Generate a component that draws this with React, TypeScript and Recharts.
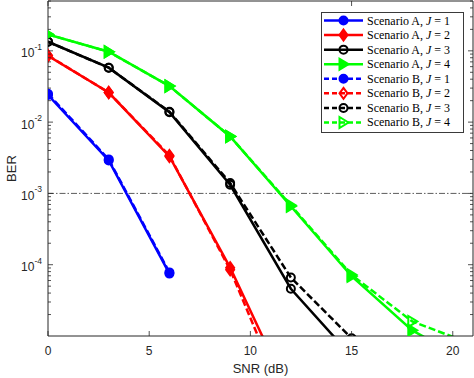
import React from 'react';
import { LineChart, Line, XAxis, YAxis, ReferenceLine, Legend } from 'recharts';

// SNR grid (dB) and BER per scenario / J
const SNR_DB = [0, 3, 6, 9, 12, 15, 18, 21];
const BER_A1 = [0.024, 0.0029, 7.5e-5, null, null, null, null, null];
const BER_A2 = [0.085, 0.026, 0.0033, 9.1e-5, 1.4e-6, null, null, null];
const BER_A3 = [0.134, 0.058, 0.0138, 0.00132, 4.6e-5, 5.2e-6, null, null];
const BER_A4 = [0.17, 0.097, 0.032, 0.0063, 6.6e-4, 6.9e-5, 1.2e-5, 4e-6];
const BER_B1 = [0.025, 0.003, 7.8e-5, null, null, null, null, null];
const BER_B2 = [0.086, 0.026, 0.0034, 8.5e-5, 8e-7, null, null, null];
const BER_B3 = [0.134, 0.058, 0.014, 0.0014, 6.6e-5, 9.3e-6, null, null];
const BER_B4 = [0.17, 0.097, 0.032, 0.0063, 6.8e-4, 7.2e-5, 1.6e-5, 7.6e-6];

const X_TICKS = [0, 5, 10, 15, 20];
const Y_MAJOR = [1e-4, 1e-3, 1e-2, 1e-1];
const Y_DECADES = [1e-5, 1e-4, 1e-3, 1e-2, 1e-1];
const Y_MINOR_STEPS = [2, 3, 4, 5, 6, 7, 8, 9];
const BER_TARGET = 1e-3;

const X_DOMAIN: [number, number] = [0, 21];
const Y_DOMAIN: [number, number] = [1e-5, 0.5];

const AXIS = '#262626';
const SANS = '"Liberation Sans", Arial, Helvetica, sans-serif';
const SERIF = '"Liberation Serif", "Times New Roman", serif';

type Shape = 'circle' | 'diamond' | 'triangle';

const SERIES: { key: string; scen: string; j: number; values: (number | null)[]; color: string; dashed: boolean; shape: Shape; filled: boolean }[] = [
  { key: 'a1', scen: 'A', j: 1, values: BER_A1, color: '#0000ff', dashed: false, shape: 'circle', filled: true },
  { key: 'a2', scen: 'A', j: 2, values: BER_A2, color: '#ff0000', dashed: false, shape: 'diamond', filled: true },
  { key: 'a3', scen: 'A', j: 3, values: BER_A3, color: '#000000', dashed: false, shape: 'circle', filled: false },
  { key: 'a4', scen: 'A', j: 4, values: BER_A4, color: '#00ff00', dashed: false, shape: 'triangle', filled: true },
  { key: 'b1', scen: 'B', j: 1, values: BER_B1, color: '#0000ff', dashed: true, shape: 'circle', filled: true },
  { key: 'b2', scen: 'B', j: 2, values: BER_B2, color: '#ff0000', dashed: true, shape: 'diamond', filled: false },
  { key: 'b3', scen: 'B', j: 3, values: BER_B3, color: '#000000', dashed: true, shape: 'circle', filled: false },
  { key: 'b4', scen: 'B', j: 4, values: BER_B4, color: '#00ff00', dashed: true, shape: 'triangle', filled: false },
];

const data = SNR_DB.map((snr, i) => {
  const row: Record<string, number | null> = { snr };
  SERIES.forEach((s) => {
    row[s.key] = s.values[i];
  });
  return row;
});

const Y_TICKS = [
  ...Y_DECADES.flatMap((d) => Y_MINOR_STEPS.map((m) => m * d)).filter((v) => v <= Y_DOMAIN[1]),
  ...Y_MAJOR,
].sort((a, b) => a - b);

const isMajor = (v: number) => Y_MAJOR.some((m) => Math.abs(v - m) / m < 1e-9);

function Marker({ shape, cx, cy, color, filled }: { shape: Shape; cx: number; cy: number; color: string; filled: boolean }) {
  const fill = filled ? color : 'none';
  if (shape === 'circle') {
    return <circle cx={cx} cy={cy} r={4} fill={fill} stroke={color} strokeWidth={2} />;
  }
  if (shape === 'diamond') {
    const pts = `${cx},${cy - 5.5} ${cx + 4},${cy} ${cx},${cy + 5.5} ${cx - 4},${cy}`;
    return <polygon points={pts} fill={fill} stroke={color} strokeWidth={2} strokeLinejoin="miter" />;
  }
  const pts = `${cx + 5},${cy} ${cx - 4},${cy - 5.5} ${cx - 4},${cy + 5.5}`;
  return <polygon points={pts} fill={fill} stroke={color} strokeWidth={2} strokeLinejoin="miter" />;
}

const BottomTick = (props: any) => {
  const { x, y, payload } = props;
  return (
    <g>
      <line x1={x} y1={y} x2={x} y2={y - 5} stroke={AXIS} strokeWidth={0.8} />
      <text x={x} y={y + 19} textAnchor="middle" fontSize={12} fill={AXIS} fontFamily={SANS}>
        {payload.value}
      </text>
    </g>
  );
};

const TopTick = (props: any) => {
  const { x, y } = props;
  return <line x1={x} y1={y} x2={x} y2={y + 5} stroke={AXIS} strokeWidth={0.8} />;
};

const LeftTick = (props: any) => {
  const { x, y, payload } = props;
  const major = isMajor(payload.value);
  const exp = Math.round(Math.log10(payload.value));
  return (
    <g>
      <line x1={x} y1={y} x2={x + (major ? 5 : 3)} y2={y} stroke={AXIS} strokeWidth={0.8} />
      {major && (
        <text x={x - 6} y={y + 6.5} textAnchor="end" fontSize={12} fill={AXIS} fontFamily={SANS}>
          10
          <tspan dy={-7.5} fontSize={8.5}>
            {exp}
          </tspan>
        </text>
      )}
    </g>
  );
};

const RightTick = (props: any) => {
  const { x, y, payload } = props;
  const major = isMajor(payload.value);
  return <line x1={x} y1={y} x2={x - (major ? 5 : 3)} y2={y} stroke={AXIS} strokeWidth={0.8} />;
};

const LegendBox = () => {
  const rowH = 14.57;
  return (
    <svg width={143} height={121} style={{ display: 'block' }}>
      <rect x={0.5} y={0.5} width={142} height={120} fill="#fff" stroke="#3a3a3a" strokeWidth={1} />
      {SERIES.map((s, i) => {
        const cy = 8.5 + i * rowH;
        return (
          <g key={`leg-${s.key}`}>
            <line x1={3} y1={cy} x2={42} y2={cy} stroke={s.color} strokeWidth={2.5} strokeDasharray={s.dashed ? '5 3' : undefined} />
            <Marker shape={s.shape} cx={22.5} cy={cy} color={s.color} filled={s.filled} />
            <text x={46} y={cy + 4} fontSize={12} fill="#000" fontFamily={SERIF}>
              {`Scenario ${s.scen}, `}
              <tspan fontStyle="italic">J</tspan>
              {` = ${s.j}`}
            </text>
          </g>
        );
      })}
    </svg>
  );
};

export default function App() {
  return (
    <div style={{ position: 'absolute', left: 0, top: 0, background: '#fff' }}>
      <LineChart width={474} height={378} data={data} margin={{ top: 0, right: 0, bottom: 0, left: 0 }}>
        <XAxis
          dataKey="snr"
          type="number"
          domain={X_DOMAIN}
          ticks={X_TICKS}
          allowDataOverflow
          interval={0}
          height={42}
          tickSize={0}
          tickMargin={0}
          tickLine={false}
          tick={BottomTick}
          axisLine={{ stroke: AXIS, strokeWidth: 1 }}
          label={{
            content: (p: any) => (
              <text x={p.viewBox.x + p.viewBox.width / 2} y={373} textAnchor="middle" fontSize={13} fill={AXIS} fontFamily={SANS}>
                SNR (dB)
              </text>
            ),
          }}
        />
        <XAxis
          xAxisId="top"
          orientation="top"
          type="number"
          domain={X_DOMAIN}
          ticks={X_TICKS}
          allowDataOverflow
          interval={0}
          height={1}
          tickSize={0}
          tickMargin={0}
          tickLine={false}
          tick={TopTick}
          axisLine={{ stroke: AXIS, strokeWidth: 1 }}
        />
        <YAxis
          scale="log"
          type="number"
          domain={Y_DOMAIN}
          ticks={Y_TICKS}
          allowDataOverflow
          interval={0}
          width={48}
          tickSize={0}
          tickMargin={0}
          tickLine={false}
          tick={LeftTick}
          axisLine={{ stroke: AXIS, strokeWidth: 1 }}
          label={{
            content: (p: any) => {
              const cy = p.viewBox.y + p.viewBox.height / 2;
              return (
                <text x={16} y={cy} transform={`rotate(-90 16 ${cy})`} textAnchor="middle" fontSize={13} fill={AXIS} fontFamily={SANS}>
                  BER
                </text>
              );
            },
          }}
        />
        <YAxis
          yAxisId="right"
          orientation="right"
          scale="log"
          type="number"
          domain={Y_DOMAIN}
          ticks={Y_TICKS}
          allowDataOverflow
          interval={0}
          width={1}
          tickSize={0}
          tickMargin={0}
          tickLine={false}
          tick={RightTick}
          axisLine={{ stroke: AXIS, strokeWidth: 1 }}
        />
        <ReferenceLine y={BER_TARGET} stroke="#333" strokeWidth={0.8} strokeDasharray="6 2 1.5 2" />
        {SERIES.map((s) => (
          <Line
            key={s.key}
            dataKey={s.key}
            name={`Scenario ${s.scen}, J = ${s.j}`}
            type="linear"
            stroke={s.color}
            strokeWidth={2.5}
            strokeDasharray={s.dashed ? '7 3' : undefined}
            connectNulls={false}
            isAnimationActive={false}
            legendType="none"
            dot={(p: any) =>
              p.cx == null || p.cy == null || p.value == null ? (
                <g key={`d-${s.key}-${p.index}`} />
              ) : (
                <Marker key={`d-${s.key}-${p.index}`} shape={s.shape} cx={p.cx} cy={p.cy} color={s.color} filled={s.filled} />
              )
            }
            activeDot={false}
          />
        ))}
        <Legend layout="vertical" align="center" verticalAlign="middle" wrapperStyle={{ left: 321, top: 12, width: 143 }} content={() => <LegendBox />} />
      </LineChart>
    </div>
  );
}
